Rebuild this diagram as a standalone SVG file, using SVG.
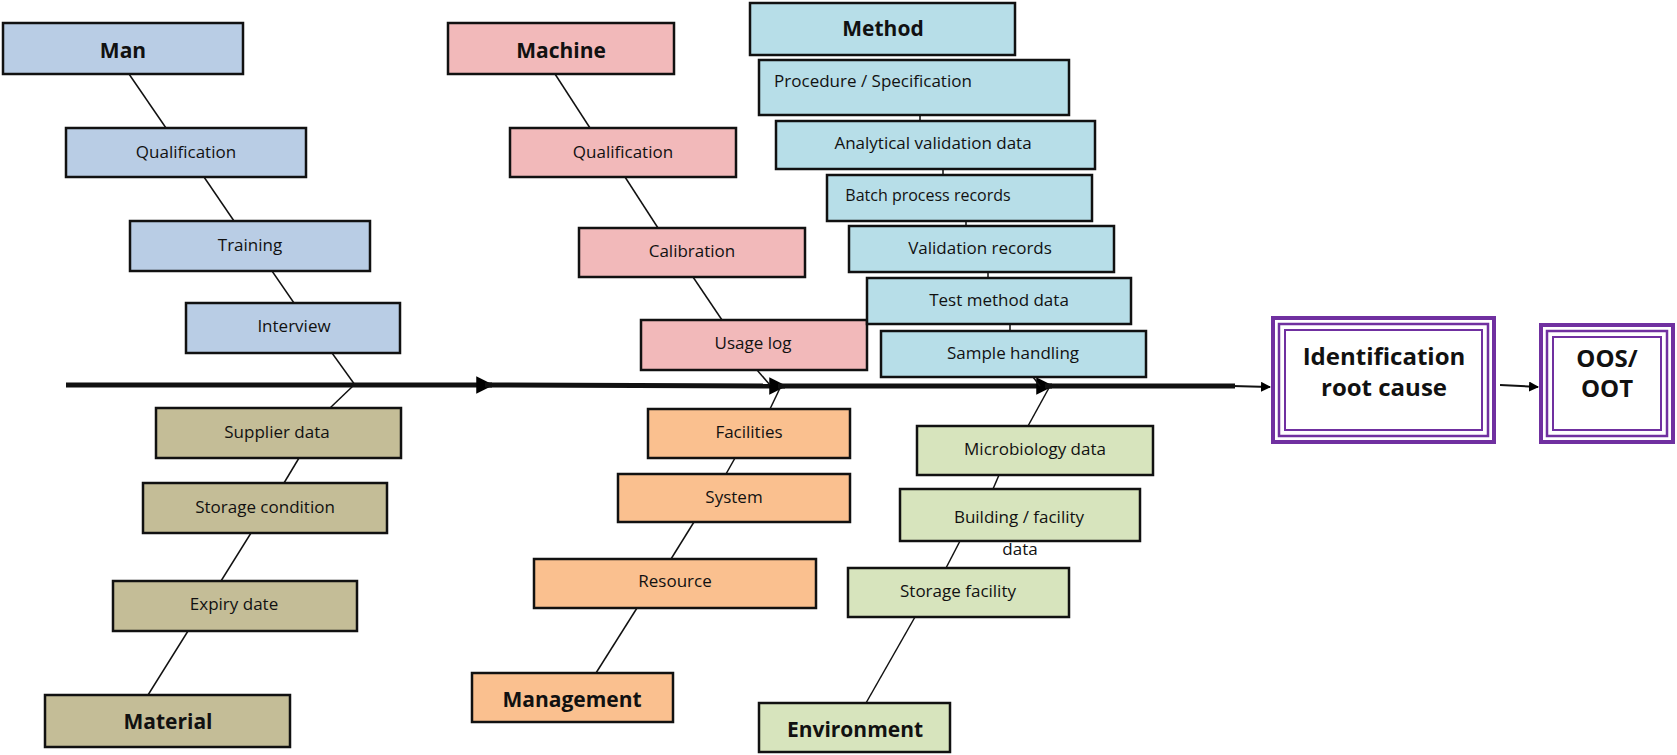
<svg xmlns="http://www.w3.org/2000/svg" width="1677" height="755" viewBox="0 0 1677 755">
<style>
rect.b{stroke:#111;stroke-width:2.5}
.man{fill:#b9cde5}.mac{fill:#f2b9ba}.met{fill:#b7dee8}.mat{fill:#c4bd97}.mgt{fill:#fac08f}.env{fill:#d7e4bd}
text{font-family:"Open Sans","Liberation Sans",sans-serif;font-size:17px;fill:#111;text-anchor:middle}
text.h{font-size:21px;font-weight:bold}
text.r{font-size:24px;font-weight:bold}
.c line{stroke:#111;stroke-width:1.5}
.p{fill:none;stroke:#7030a0}
</style>
<defs><marker id="a" viewBox="0 0 10 10" refX="9" refY="5" markerWidth="5" markerHeight="5" orient="auto"><path d="M0,0L10,5L0,10z" fill="#000"/></marker>
<marker id="s" viewBox="0 0 10 10" refX="9" refY="5" markerWidth="3.5" markerHeight="3.5" orient="auto"><path d="M0,0L10,5L0,10z" fill="#000"/></marker></defs>
<rect width="1677" height="755" fill="#fff"/>
<g class="c">
<line x1="66" y1="385" x2="492" y2="385" style="stroke-width:5" marker-end="url(#s)"/>
<line x1="485" y1="385" x2="785" y2="386" style="stroke-width:5" marker-end="url(#s)"/>
<line x1="778" y1="386" x2="1052" y2="386" style="stroke-width:5" marker-end="url(#s)"/>
<line x1="1045" y1="386" x2="1235" y2="386" style="stroke-width:5"/>
<line x1="1232" y1="386" x2="1270" y2="387" style="stroke-width:2" marker-end="url(#a)"/>
<line x1="1500" y1="385" x2="1538" y2="387" style="stroke-width:2" marker-end="url(#a)"/>
<line x1="129" y1="74" x2="166" y2="128"/><line x1="204" y1="177" x2="234" y2="221"/><line x1="272" y1="271" x2="294" y2="303"/><line x1="332" y1="353" x2="355" y2="385"/>
<line x1="354" y1="385" x2="330" y2="408"/><line x1="299" y1="458" x2="284" y2="483"/><line x1="251" y1="533" x2="221" y2="581"/><line x1="188" y1="631" x2="148" y2="695"/>
<line x1="555" y1="74" x2="590" y2="128"/><line x1="625" y1="177" x2="658" y2="228"/><line x1="693" y1="277" x2="722" y2="320"/><line x1="757" y1="370" x2="770" y2="385"/>
<line x1="781" y1="386" x2="770" y2="409"/><line x1="735" y1="458" x2="726" y2="474"/><line x1="694" y1="522" x2="671" y2="559"/><line x1="637" y1="608" x2="596" y2="673"/>
<line x1="920" y1="115" x2="920" y2="121"/><line x1="943" y1="169" x2="943" y2="175"/><line x1="966" y1="221" x2="966" y2="226"/><line x1="988" y1="272" x2="988" y2="278"/><line x1="1010" y1="324" x2="1010" y2="331"/><line x1="1033" y1="377" x2="1040" y2="386"/>
<line x1="1050" y1="386" x2="1028" y2="426"/><line x1="999" y1="475" x2="993" y2="489"/><line x1="960" y1="541" x2="946" y2="568"/><line x1="915" y1="617" x2="866" y2="703"/>
</g>
<g id="man"><rect class="b man" x="3" y="23" width="240" height="51"/><text class="h" x="123" y="58">Man</text></g>
<g id="man1"><rect class="b man" x="66" y="128" width="240" height="49"/><text x="186" y="158">Qualification</text></g>
<g id="man2"><rect class="b man" x="130" y="221" width="240" height="50"/><text x="250" y="251">Training</text></g>
<g id="man3"><rect class="b man" x="186" y="303" width="214" height="50"/><text x="294" y="332">Interview</text></g>
<g id="mat1"><rect class="b mat" x="156" y="408" width="245" height="50"/><text x="277" y="438">Supplier data</text></g>
<g id="mat2"><rect class="b mat" x="143" y="483" width="244" height="50"/><text x="265" y="513">Storage condition</text></g>
<g id="mat3"><rect class="b mat" x="113" y="581" width="244" height="50"/><text x="234" y="610">Expiry date</text></g>
<g id="mat"><rect class="b mat" x="45" y="695" width="245" height="52"/><text class="h" x="168" y="729">Material</text></g>
<g id="mac"><rect class="b mac" x="448" y="23" width="226" height="51"/><text class="h" x="561" y="58">Machine</text></g>
<g id="mac1"><rect class="b mac" x="510" y="128" width="226" height="49"/><text x="623" y="158">Qualification</text></g>
<g id="mac2"><rect class="b mac" x="579" y="228" width="226" height="49"/><text x="692" y="257">Calibration</text></g>
<g id="mac3"><rect class="b mac" x="641" y="320" width="226" height="50"/><text x="753" y="349">Usage log</text></g>
<g id="met"><rect class="b met" x="750" y="3" width="265" height="52"/><text class="h" x="883" y="36">Method</text></g>
<g id="met1"><rect class="b met" x="759" y="60" width="310" height="55"/><text x="873" y="87" style="text-anchor:middle">Procedure / Specification</text></g>
<g id="met2"><rect class="b met" x="776" y="121" width="319" height="48"/><text x="933" y="149">Analytical validation data</text></g>
<g id="met3"><rect class="b met" x="827" y="175" width="265" height="46"/><text x="928" y="201" style="font-size:16px">Batch process records</text></g>
<g id="met4"><rect class="b met" x="849" y="226" width="265" height="46"/><text x="980" y="254">Validation records</text></g>
<g id="met5"><rect class="b met" x="867" y="278" width="264" height="46"/><text x="999" y="306">Test method  data</text></g>
<g id="met6"><rect class="b met" x="881" y="331" width="265" height="46"/><text x="1013" y="359">Sample handling</text></g>
<g id="mgt1"><rect class="b mgt" x="648" y="409" width="202" height="49"/><text x="749" y="438">Facilities</text></g>
<g id="mgt2"><rect class="b mgt" x="618" y="474" width="232" height="48"/><text x="734" y="503">System</text></g>
<g id="mgt3"><rect class="b mgt" x="534" y="559" width="282" height="49"/><text x="675" y="587">Resource</text></g>
<g id="mgt"><rect class="b mgt" x="472" y="673" width="201" height="49"/><text class="h" x="572" y="707">Management</text></g>
<g id="env1"><rect class="b env" x="917" y="426" width="236" height="49"/><text x="1035" y="455">Microbiology data</text></g>
<g id="env2"><rect class="b env" x="900" y="489" width="240" height="52"/><text x="1019" y="523">Building / facility</text><text x="1020" y="555">data</text></g>
<g id="env3"><rect class="b env" x="848" y="568" width="221" height="49"/><text x="958" y="597">Storage facility</text></g>
<g id="env"><rect class="b env" x="759" y="703" width="191" height="49"/><text class="h" x="855" y="737">Environment</text></g>
<g id="root"><rect class="p" x="1273" y="318" width="221" height="124" style="stroke-width:4"/><rect class="p" x="1279" y="324" width="209" height="112" style="stroke-width:2.5"/><rect class="p" x="1285" y="330" width="197" height="100" style="stroke-width:2"/>
<text class="r" x="1384" y="365">Identification</text><text class="r" x="1384" y="396">root cause</text></g>
<g id="oos"><rect class="p" x="1541" y="325" width="132" height="117" style="stroke-width:4"/><rect class="p" x="1547" y="331" width="120" height="105" style="stroke-width:2.5"/><rect class="p" x="1553" y="337" width="108" height="93" style="stroke-width:2"/>
<text class="r" x="1607" y="367">OOS/</text><text class="r" x="1607" y="397">OOT</text></g>
</svg>
